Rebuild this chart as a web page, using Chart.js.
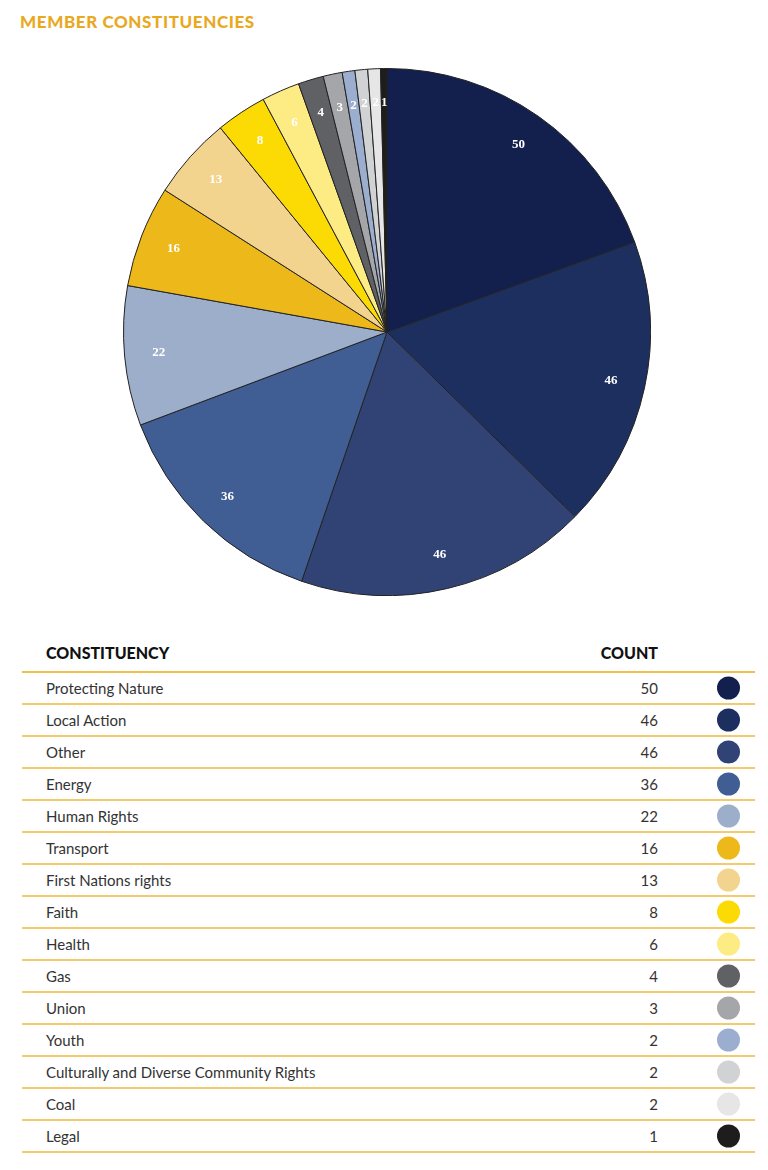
<!DOCTYPE html>
<html>
<head>
<meta charset="utf-8">
<script src="https://cdn.jsdelivr.net/npm/chart.js@4"></script>
<style>
  body { margin: 0; background: #fff; width: 768px; height: 1170px; position: relative; font-family: Lato, "Open Sans", sans-serif; }
  #title { position: absolute; left: 20px; top: 11px; font-size: 17px; font-weight: 900; color: #E9A91F; letter-spacing: 0.6px; }
  #pieBox { position: absolute; left: 123px; top: 68px; width: 528px; height: 528px; }
  #tbl { position: absolute; left: 22px; top: 642px; width: 733px; }
  .head { height: 29px; border-bottom: 2px solid #F0C04E; position: relative; font-weight: 900; font-size: 16px; color: #111; }
  .head .name, .head .count { transform: translateY(-72%); }
  .row { height: 30px; border-bottom: 2px solid #F3CB6C; position: relative; font-size: 15px; color: #333; }
  .name { position: absolute; left: 24px; top: 50%; transform: translateY(-50%); }
  .count { position: absolute; right: 97px; top: 50%; transform: translateY(-50%); }
  .dot { position: absolute; left: 695px; top: 50%; width: 23px; height: 23px; border-radius: 50%; transform: translateY(-50%); }
</style>
</head>
<body>
<div id="title">MEMBER CONSTITUENCIES</div>
<div id="pieBox"><canvas id="myChart"></canvas></div>
<div id="tbl"></div>
<script>
const categories = ['Protecting Nature', 'Local Action', 'Other', 'Energy', 'Human Rights', 'Transport',
  'First Nations rights', 'Faith', 'Health', 'Gas', 'Union', 'Youth',
  'Culturally and Diverse Community Rights', 'Coal', 'Legal'];
const counts = [50, 46, 46, 36, 22, 16, 13, 8, 6, 4, 3, 2, 2, 2, 1];
const colors = ['#13204D', '#1C2F5E', '#314375', '#415E94', '#9DAECB', '#EDB81A',
  '#F3D48E', '#FCDB05', '#FDEB83', '#5F6164', '#A5A6A9', '#9CAED0',
  '#D1D2D4', '#E6E6E7', '#1E1C1D'];

// build the table under the pie
const tbl = document.getElementById('tbl');
let html = '<div class="head"><span class="name">CONSTITUENCY</span><span class="count">COUNT</span></div>';
categories.forEach((c, i) => {
  html += '<div class="row"><span class="name">' + c + '</span><span class="count">' + counts[i] +
    '</span><span class="dot" style="background:' + colors[i] + '"></span></div>';
});
tbl.innerHTML = html;

// white value labels near the rim of each slice
const sliceLabels = {
  id: 'sliceLabels',
  afterDatasetsDraw(chart) {
    const ctx = chart.ctx;
    const meta = chart.getDatasetMeta(0);
    ctx.save();
    ctx.fillStyle = '#fff';
    ctx.font = 'bold 13px "Liberation Serif", serif';
    ctx.textAlign = 'center';
    ctx.textBaseline = 'middle';
    meta.data.forEach((arc, i) => {
      const p = arc.getProps(['x', 'y', 'startAngle', 'endAngle', 'outerRadius']);
      const mid = (p.startAngle + p.endAngle) / 2;
      const r = p.outerRadius * 0.87;
      ctx.fillText(String(counts[i]), p.x + Math.cos(mid) * r, p.y + Math.sin(mid) * r);
    });
    ctx.restore();
  }
};

const ctx = document.getElementById('myChart').getContext('2d');
new Chart(ctx, {
  type: 'pie',
  data: {
    labels: categories,
    datasets: [{
      data: counts,
      backgroundColor: colors,
      borderColor: '#222',
      borderWidth: 1
    }]
  },
  options: {
    responsive: true,
    maintainAspectRatio: false,
    animation: false,
    plugins: { legend: { display: false }, tooltip: { enabled: false } }
  },
  plugins: [sliceLabels]
});
</script>
</body>
</html>
